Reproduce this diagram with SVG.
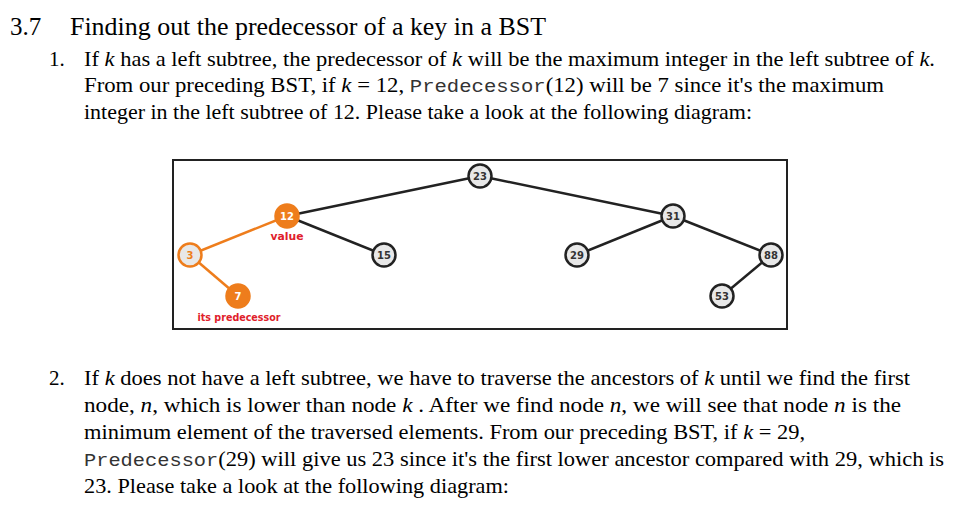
<svg xmlns="http://www.w3.org/2000/svg" width="974" height="523" viewBox="0 0 974 523">
<style>
.t{font-family:"Liberation Serif",serif;font-size:21px;fill:#000}
.h{font-family:"Liberation Serif",serif;font-size:25px;fill:#000}
.m{font-family:"Liberation Mono",monospace;font-size:19px;fill:#333}
.i{font-style:italic}
.n circle{fill:#e8e8e8;stroke:#222;stroke-width:2.5}
.n text{font-family:"DejaVu Sans",sans-serif;font-size:10px;font-weight:bold;fill:#333;text-anchor:middle}
.o circle{fill:#ee7d1c;stroke:#ee7d1c;stroke-width:2.5}
.o text{font-family:"DejaVu Sans",sans-serif;font-size:10px;font-weight:bold;fill:#fff;text-anchor:middle}
.lbl{font-family:"DejaVu Sans",sans-serif;font-size:10px;font-weight:bold;fill:#e0202a;text-anchor:middle}
</style>
<rect width="974" height="523" fill="#fff"/>
<text class="h" x="10" y="35">3.7</text>
<text class="h" x="70" y="35" textLength="476" lengthAdjust="spacingAndGlyphs">Finding out the predecessor of a key in a BST</text>
<text class="t" x="49" y="66">1.</text>
<text class="t" x="84" y="66" textLength="851" lengthAdjust="spacingAndGlyphs">If <tspan class="i">k</tspan> has a left subtree, the predecessor of <tspan class="i">k</tspan>  will be the maximum integer in the left subtree of <tspan class="i">k</tspan>.</text>
<text class="t" x="84" y="92" textLength="800" lengthAdjust="spacingAndGlyphs">From our preceding BST, if <tspan class="i">k</tspan> = 12, <tspan class="m">Predecessor</tspan>(12) will be 7 since it's the maximum</text>
<text class="t" x="84" y="119" textLength="668" lengthAdjust="spacingAndGlyphs">integer in the left subtree of 12. Please take a look at the following diagram:</text>
<rect x="173" y="160" width="614" height="169" fill="#fff" stroke="#222" stroke-width="2"/>
<g id="connectors" stroke-width="2.5" fill="none">
<line x1="287" y1="216" x2="480" y2="176" stroke="#222"/>
<line x1="287" y1="216" x2="384" y2="255" stroke="#222"/>
<line x1="287" y1="216" x2="190" y2="255" stroke="#ee7d1c"/>
<line x1="190" y1="255" x2="238" y2="296" stroke="#ee7d1c"/>
<line x1="480" y1="176" x2="673" y2="216" stroke="#222"/>
<line x1="673" y1="216" x2="577" y2="255" stroke="#222"/>
<line x1="673" y1="216" x2="771" y2="255" stroke="#222"/>
<line x1="771" y1="255" x2="722" y2="296" stroke="#222"/>
</g>
<g id="n23" class="n"><circle cx="480" cy="176" r="11.5"/><text x="480" y="180">23</text></g>
<g id="n12" class="o"><circle cx="287" cy="216" r="11.5"/><text x="287" y="220">12</text></g>
<g id="n3" class="n"><circle cx="190" cy="255" r="11.5" style="stroke:#ee7d1c"/><text x="190" y="259" style="fill:#ee7d1c">3</text></g>
<g id="n7" class="o"><circle cx="238" cy="296" r="11.5"/><text x="238" y="300">7</text></g>
<g id="n15" class="n"><circle cx="384" cy="255" r="11.5"/><text x="384" y="259">15</text></g>
<g id="n31" class="n"><circle cx="673" cy="216" r="11.5"/><text x="673" y="220">31</text></g>
<g id="n29" class="n"><circle cx="577" cy="255" r="11.5"/><text x="577" y="259">29</text></g>
<g id="n88" class="n"><circle cx="771" cy="255" r="11.5"/><text x="771" y="259">88</text></g>
<g id="n53" class="n"><circle cx="722" cy="296" r="11.5"/><text x="722" y="300">53</text></g>
<text class="lbl" x="287" y="240" textLength="33" lengthAdjust="spacingAndGlyphs">value</text>
<text class="lbl" x="239" y="321" textLength="83" lengthAdjust="spacingAndGlyphs">its predecessor</text>
<text class="t" x="49" y="385">2.</text>
<text class="t" x="84" y="385" textLength="826" lengthAdjust="spacingAndGlyphs">If <tspan class="i">k</tspan>  does not have a left subtree, we have to traverse the ancestors of <tspan class="i">k</tspan>  until we find the first</text>
<text class="t" x="84" y="412" textLength="817" lengthAdjust="spacingAndGlyphs">node, <tspan class="i">n</tspan>, which is lower than node <tspan class="i">k</tspan> . After we find node <tspan class="i">n</tspan>, we will see that node <tspan class="i">n</tspan> is the</text>
<text class="t" x="84" y="439" textLength="721" lengthAdjust="spacingAndGlyphs">minimum element of the traversed elements. From our preceding BST, if <tspan class="i">k</tspan> = 29,</text>
<text class="t" x="84" y="466" textLength="860" lengthAdjust="spacingAndGlyphs"><tspan class="m">Predecessor</tspan>(29) will give us 23 since it's the first lower ancestor compared with 29, which is</text>
<text class="t" x="84" y="493" textLength="425" lengthAdjust="spacingAndGlyphs">23. Please take a look at the following diagram:</text>
</svg>
